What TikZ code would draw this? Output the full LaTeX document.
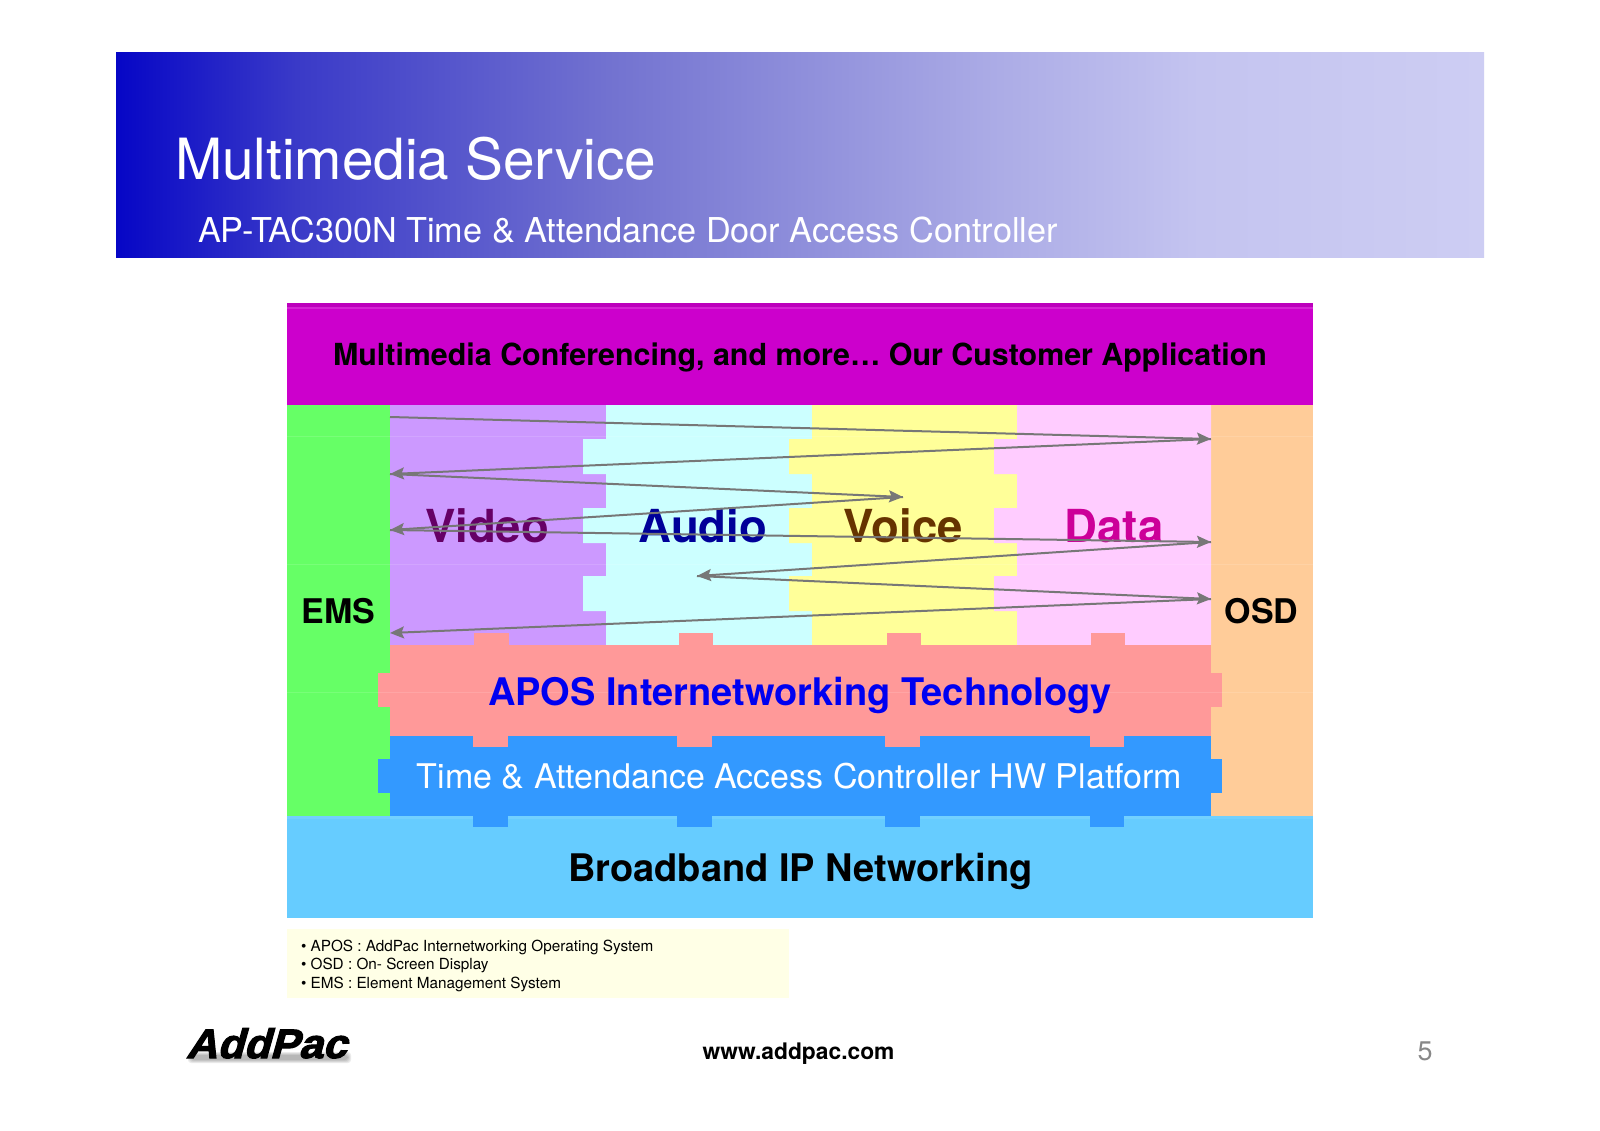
\documentclass[tikz,border=0pt]{standalone}
\usepackage{fontspec}
\setmainfont{TeX Gyre Heros}
\newfontfamily\logofont[UprightFont=* Bold,FakeBold=2.8,FakeSlant=0.28,FakeStretch=1.05]{Liberation Sans}
\usetikzlibrary{arrows.meta}
\definecolor{cMag}{HTML}{CC00CC}
\definecolor{cGreen}{HTML}{66FF66}
\definecolor{cPurple}{HTML}{CC99FF}
\definecolor{cCyan}{HTML}{CCFFFF}
\definecolor{cYellow}{HTML}{FFFF99}
\definecolor{cPink}{HTML}{FFCCFF}
\definecolor{cOrange}{HTML}{FFCC99}
\definecolor{cSalmon}{HTML}{FF9999}
\definecolor{cBlue}{HTML}{3399FF}
\definecolor{cSky}{HTML}{66CCFF}
\definecolor{cNote}{HTML}{FFFFE6}
\definecolor{cArrow}{HTML}{777777}
\definecolor{bA}{HTML}{0606C6}
\definecolor{bB}{HTML}{3A3AC8}
\definecolor{bC}{HTML}{7272D0}
\definecolor{bD}{HTML}{ACACE6}
\definecolor{bE}{HTML}{C4C4F0}
\definecolor{bF}{HTML}{CDCDF3}
\pgfdeclarehorizontalshading{bannershade}{100bp}{
 color(0bp)=(bA); color(25bp)=(bA); color(31.6bp)=(bB); color(43bp)=(bC);
 color(57.3bp)=(bD); color(64.6bp)=(bE); color(75bp)=(bF); color(100bp)=(bF)}
\newcommand{\fs}[1]{\fontsize{#1}{#1}\selectfont}
\tikzset{
 label base/.style={inner sep=0pt,outer sep=0pt,anchor=base},
 lab/.style={label base,font=\bfseries\fs{#1}},
 flow/.style={draw=cArrow,line width=2pt,-{Stealth[length=14pt,width=12pt,inset=2.5pt]}},
 seam/.style={draw=white,opacity=0.12,line width=1pt}
}
\begin{document}
\begin{tikzpicture}[x=1pt,y=-1pt]
\useasboundingbox (0,0) rectangle (1600,1131);
\fill[white] (0,0) rectangle (1600,1131);
% banner
\shade[shading=bannershade] (116,52.5) rectangle (1484,257.5);
\node[label base,anchor=base west,text=white,font=\fs{56.8}] (title) at (175,180) {Multimedia Service};
\node[label base,anchor=base west,text=white,font=\fs{34.25}] (subtitle) at (198,242.5) {AP-TAC300N Time \& Attendance Door Access Controller};
% top band
\fill[cMag] (287,303) rectangle (1313,405);
\fill[cMag!92!black] (287,303) rectangle (1313,307.5);
\fill[cMag!85!white] (287,307.5) rectangle (1313,309);
% side columns
\fill[cGreen] (287,405) rectangle (390,816);
\fill[cOrange] (1211,405) rectangle (1313,816);
% service columns with interlocking notches
\fill[cPurple] (390,405) rectangle (606,645);
\fill[cCyan] (606,405) -- (606,439) -- (583,439) -- (583,474) -- (606,474) -- (606,508) -- (583,508) -- (583,543) -- (606,543) -- (606,576) -- (583,576) -- (583,611) -- (606,611) -- (606,645) -- (812,645) -- (812,405) -- cycle;
\fill[cYellow] (812,405) -- (812,439) -- (789,439) -- (789,474) -- (812,474) -- (812,508) -- (789,508) -- (789,543) -- (812,543) -- (812,576) -- (789,576) -- (789,611) -- (812,611) -- (812,645) -- (1017,645) -- (1017,405) -- cycle;
\fill[cPink] (1017,405) -- (1017,439) -- (994,439) -- (994,474) -- (1017,474) -- (1017,508) -- (994,508) -- (994,543) -- (1017,543) -- (1017,576) -- (994,576) -- (994,611) -- (1017,611) -- (1017,645) -- (1211,645) -- (1211,405) -- cycle;
% bottom band
\fill[cSky] (287,816) rectangle (1313,918);
\fill[cSky!92!white] (287,816) rectangle (1313,819);
% HW platform
\fill[cBlue] (390,736) rectangle (1211,816);
\fill[cBlue] (378,759) rectangle (1222,793);
\foreach \a/\b in {473/508,677/712,885/920,1090/1124}{\fill[cBlue] (\a,816) rectangle (\b,827);}
% APOS
\fill[cSalmon] (390,645) rectangle (1211,736);
\fill[cSalmon] (378,673) rectangle (1222,707);
\foreach \a/\b in {474/509,679/713,887/921,1091/1125}{\fill[cSalmon] (\a,633) rectangle (\b,645);}
\foreach \a/\b in {473/508,677/712,885/920,1090/1124}{\fill[cSalmon] (\a,736) rectangle (\b,747);}
% faint seams
\foreach \y in {436,564,692}{\draw[seam] (287,\y) -- (1313,\y);}
% notes box
\fill[cNote] (287,929) rectangle (789,998);
% labels
\node[lab=30.4] (conf) at (800,365) {Multimedia Conferencing, and more… Our Customer Application};
\node[lab=45.5,text={rgb,255:red,102;green,0;blue,102}] (video) at (487,542) {Video};
\node[lab=45.5,text={rgb,255:red,0;green,0;blue,153}] (audio) at (703,542) {Audio};
\node[lab=45.5,text={rgb,255:red,102;green,51;blue,0}] (voice) at (903,542) {Voice};
\node[lab=45.5,text={rgb,255:red,204;green,0;blue,153}] (data) at (1114,542) {Data};
\node[lab=34] (ems) at (338.5,623) {EMS};
\node[lab=34] (osd) at (1261.5,623) {OSD};
\node[lab=38,text={rgb,255:red,0;green,0;blue,240}] (apos) at (800,705) {APOS Internetworking Technology};
\node[label base,text=white,font=\fs{34}] (hw) at (799.5,788) {Time \& Attendance Access Controller HW Platform};
\node[lab=38] (bb) at (800.5,881) {Broadband IP Networking};
\node[label base,anchor=base west,font=\fs{15.3}] (n1) at (301,951) {• APOS : AddPac Internetworking Operating System};
\node[label base,anchor=base west,font=\fs{15.3}] (n2) at (301,969.5) {• OSD : On- Screen Display};
\node[label base,anchor=base west,font=\fs{15.3}] (n3) at (301,988) {• EMS : Element Management System};
% logo
\foreach \e in {0,1,2,3}{\fill[black,opacity=0.08,rounded corners=3pt] (191-\e,1055-\e) rectangle (348+\e,1060+\e);}
\node[label base,anchor=base west,font=\logofont\fs{41}] (logo) at (186,1058) {AddPac};
\node[lab=22.8] (www) at (798.5,1059) {www.addpac.com};
\node[label base,text={rgb,255:red,136;green,136;blue,136},font=\fs{27}] (page) at (1425,1060) {5};
% connector way-points
\coordinate (e1) at (390,417);
\coordinate (o1) at (1211,439);
\coordinate (e2) at (390,474);
\coordinate (v1) at (903,497);
\coordinate (e3) at (390,530);
\coordinate (o2) at (1211,542);
\coordinate (a1) at (697,576);
\coordinate (o3) at (1211,599);
\coordinate (e4) at (390,633);
\draw[flow] (e1) -- (o1);
\draw[flow] (o1) -- (e2);
\draw[flow] (e2) -- (v1);
\draw[flow] (v1) -- (e3);
\draw[flow] (e3) -- (o2);
\draw[flow] (o2) -- (a1);
\draw[flow] (a1) -- (o3);
\draw[flow] (o3) -- (e4);
\end{tikzpicture}
\end{document}
